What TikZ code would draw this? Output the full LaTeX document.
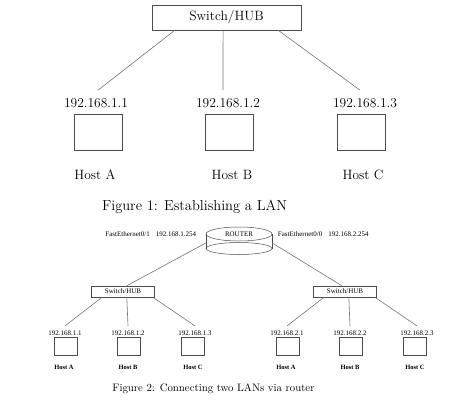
\documentclass[tikz,border=0pt]{standalone}
\usepackage{fontspec}
\newfontfamily\timesfont{Liberation Serif}
\usepackage{tikz}
\usetikzlibrary{shapes.geometric, calc}

\begin{document}
\begin{tikzpicture}[x=1pt, y=1pt,
    link/.style={draw=black!55, line width=0.6pt},
    hostbox/.style={draw=black!70, line width=0.6pt, minimum width=48pt, minimum height=36pt},
    smallbox/.style={draw=black!70, line width=0.5pt, minimum width=23pt, minimum height=18pt},
    biglabel/.style={font=\fontsize{13.5}{16}\selectfont, inner sep=1pt},
    smalllabel/.style={font=\timesfont\fontsize{7}{8}\selectfont, inner sep=0.5pt}]
    \useasboundingbox (0,0) rectangle (474,-402);

    % FIGURE 1: ONE LAN
    \node[biglabel, draw=black!70, line width=0.6pt, minimum width=149pt, minimum height=25pt] (sw) at (226.5,-17.5) {Switch/HUB};

    \foreach \x/\b/\h/\m/\n in {
        96/98/95/A/1,
        228/229/232/B/2,
        365/361/363/C/3} {
        \node[biglabel] (ip\m) at (\x,-103) {192.168.1.\n};
        \node[hostbox] (box\m) at (\b,-132) {};
        \node[biglabel] (host\m) at (\h,-175) {Host \m};
    }

    \foreach \f/\m/\s in {0.154/A/2pt, 0.477/B/-5pt, 0.846/C/-5pt}
        \draw[link] ($(sw.south west)!\f!(sw.south east)$) -- ([xshift=\s, yshift=7pt]ip\m.north);

    \node[font=\fontsize{14.5}{17}\selectfont] (cap1) at (194.5,-207) {Figure 1: Establishing a LAN};

    % FIGURE 2: TWO LANS AND A ROUTER
    \node[smalllabel, ellipse, draw=black!70, line width=0.5pt, minimum width=66pt, minimum height=14pt, inner sep=0pt] (router) at (239,-234) {ROUTER};
    \draw[draw=black!70, line width=0.5pt] (router.west) -- ++(0,-14.5);
    \draw[draw=black!70, line width=0.5pt] (router.east) -- ++(0,-14.5);
    \draw[draw=black!70, line width=0.5pt] ($(router.center)+(0,-14.5)$) ellipse [x radius=33, y radius=6];

    \node[smalllabel, anchor=east] (fe1) at ([xshift=-9pt]router.west) {FastEthernet0/1\hspace{6pt}192.168.1.254};
    \node[smalllabel, anchor=west] (fe0) at ([xshift=5pt]router.east) {FastEthernet0/0\hspace{6pt}192.168.2.254};

    \foreach \x/\s in {123/L, 345/R}
        \node[smalllabel, draw=black!70, line width=0.5pt, minimum width=63pt, minimum height=11pt] (sw\s) at (\x,-291.5) {Switch/HUB};

    \draw[link] ([yshift=-9pt]router.west) -- ($(swL.north west)!.56!(swL.north east)$);
    \draw[link] ([yshift=-9pt]router.east) -- ($(swR.north west)!.45!(swR.north east)$);

    \foreach \s/\n/\off in {L/1/0, R/2/222} {
        \foreach \m/\k/\f/\xi/\xb/\xh in {
            A/1/0.17/65/65.5/64,
            B/2/0.56/128/129/128,
            C/3/0.97/195/192.5/193} {
            \node[smalllabel] (ip\s\m) at (\xi+\off,-333) {192.168.\n.\k};
            \node[smallbox] (box\s\m) at (\xb+\off,-346) {};
            \node[smalllabel, font=\timesfont\bfseries\fontsize{6.5}{8}\selectfont] (host\s\m) at (\xh+\off,-367) {Host \m};
            \draw[link] ($(sw\s.south west)!\f!(sw\s.south east)$) -- ([yshift=4pt]ip\s\m.north);
        }
    }

    \node[font=\fontsize{10.8}{13}\selectfont] (cap2) at (213.5,-389) {Figure 2: Connecting two LANs via router};
\end{tikzpicture}
\end{document}
